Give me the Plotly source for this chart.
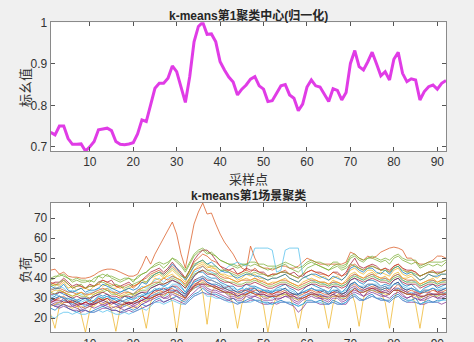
import plotly.graph_objects as go

# ---------------- data ----------------
sample_idx = list(range(1, 93))

center_norm = [0.735, 0.729, 0.750, 0.750, 0.720, 0.706, 0.706, 0.707, 0.690, 0.700,
               0.713, 0.741, 0.743, 0.745, 0.739, 0.713, 0.706, 0.705, 0.707, 0.710,
               0.731, 0.765, 0.761, 0.800, 0.841, 0.853, 0.853, 0.865, 0.895, 0.881,
               0.845, 0.807, 0.869, 0.953, 0.990, 1.000, 0.971, 0.972, 0.953, 0.905,
               0.885, 0.868, 0.856, 0.825, 0.839, 0.849, 0.863, 0.869, 0.847, 0.839,
               0.809, 0.811, 0.829, 0.847, 0.850, 0.825, 0.817, 0.787, 0.803, 0.844,
               0.861, 0.847, 0.844, 0.828, 0.809, 0.840, 0.836, 0.813, 0.831, 0.901,
               0.932, 0.893, 0.885, 0.905, 0.928, 0.900, 0.871, 0.881, 0.861, 0.911,
               0.928, 0.877, 0.857, 0.864, 0.861, 0.813, 0.833, 0.845, 0.849, 0.839,
               0.853, 0.860]

load_01 = [30,31,33,32,31,30,29,30,30,29, 31,32,31,32,30,30,29,31,30,31, 32,33,32,35,36,37,36,37,39,38,
           36,33,37,41,43,43,41,40,40,38, 37,36,36,34,35,37,36,36,35,34, 34,33,35,36,37,35,34,32,34,36,
           37,36,35,34,33,36,35,33,35,39, 40,38,37,39,39,38,36,37,36,39, 40,37,36,37,35,33,35,36,37,35,36,37]
load_02 = [44,44.5,42,43,41,40.5,40.5,40,40,40.5, 41.5,43,44,44.5,44.5,44,43,42,41,41, 42,46,51,47,52,56,60,64,68,62,
           52,45,57,67,73,77.5,72,72.5,67,62, 58,55,52,48,45,44,56,50,46,45, 45,44,45,46,46,45,45,46,48,50,
           49,48,47,47,47,47,47,47,48,53, 52,50,49,51,50,51,53,54,55,55.5, 55,54,50,50,48,47,47,48,49,51,51,50]
load_03 = [22,15,26,28,28,28,27,22,13,24, 28,29,30,29,24,13.5,25,28,28,28, 29,25,15,28,32,33,33,34,28,13,
           28,30,33,36,38,33,17,33,36,34, 33,33,27,15,27,32,33,33,32,26, 13,25,31,32,32,31,25,15,26,31,
           33,32,32,26,15,27,32,31,31,34, 28,16,30,34,35,34,33,28,15,29, 35,33,32,32,27,15,28,32,32,32,32,33]
load_04 = [28,27,27,29,28,26,27,25,26,27, 27,28,26,27,28,27,25,26,27,26, 27,29,28,30,31,32,30,31,33,32,
           31,30,33,35,36,37,35,34,34,33, 33,31,31,30,30,32,31,31,32,30, 30,31,29,30,31,31,29,28,30,31,
           32,31,30,30,29,31,31,29,30,33, 34,33,31,33,34,33,32,31,32,34, 34,32,30,31,32,29,30,31,32,30,31,32]
load_05 = [39,40,42,41,40,38,39,38,38,39, 38,41,40,42,40,39,38,39,40,38, 41,42,43,45,46,47,45,47,50,48,
           46,43,47,51,53,54,52,53,51,49, 48,47,46,45,46,47,46,47,46,45, 44,45,45,46,47,45,44,43,45,47,
           48,47,46,45,44,46,47,45,46,50, 51,49,48,50,50,49,48,49,47,50, 51,49,48,47,48,45,46,47,46,47,46,48]
load_06 = [35,34,36,35,33,34,33,32,32,33, 33,35,34,35,34,32,33,34,33,32, 34,36,35,37,39,40,38,40,41,40,
           38,36,40,43,44,46,44,43,42,43, 44,46,47,48,47,46,49,55,55,55, 55,54,43,44,54,55,55,55,42,40,
           39,38,38,37,36,38,37,36,37,40, 42,40,39,41,42,40,39,40,38,41, 42,39,38,39,38,36,37,38,39,37,38,39]
load_07 = [37,38,38,40,38,36,37,36,35,37, 36,38,39,38,39,36,36,37,38,36, 37,39,41,43,44,45,43,45,48,45,
           43,40,44,49,52,54,54,52,49,46, 45,44,45,42,43,45,44,44,43,43, 41,42,42,43,43,42,43,41,41,43,
           44,43,43,42,41,43,43,41,43,47, 50,46,45,46,47,46,44,45,44,46, 47,45,44,44,43,41,42,43,43,43,43,44]
load_08 = [25,24,26,27,25,24,23,24,24,23, 24,25,26,25,24,24,23,24,25,24, 25,27,26,27,29,30,28,29,30,31,
           29,28,30,32,33,35,33,32,32,31, 30,29,30,28,28,29,30,29,29,28, 28,27,28,29,28,28,27,26,27,29,
           29,28,29,28,27,29,28,27,28,31, 32,30,29,31,32,30,30,29,29,31, 32,30,29,29,30,27,28,29,28,29,29,30]
load_09 = [34,35,35,34,33,33,32,33,32,32, 33,34,35,34,33,33,32,33,33,32, 34,35,36,37,38,38,40,39,41,40,
           39,37,40,44,45,46,44,44,43,41, 40,40,39,38,39,39,39,40,39,38, 37,37,38,39,39,38,37,36,37,38,
           39,39,38,38,37,38,38,37,38,41, 42,41,40,41,42,41,40,40,39,41, 42,40,39,39,39,37,38,39,39,38,39,39]
load_10 = [36,37,36,38,35,36,34,35,35,34, 36,37,36,37,35,35,36,34,35,36, 37,38,38,40,41,42,40,42,44,42,
           40,38,43,46,47,48,46,45,45,42, 42,41,41,39,40,42,41,42,40,40, 39,40,40,41,42,40,39,38,40,41,
           42,41,40,41,39,40,41,39,41,44, 45,43,42,44,44,42,43,42,41,44, 45,42,41,42,41,39,40,42,41,40,42,42]
load_11 = [27,26,25,26,25,24,24,23,24,23, 23,24,25,25,24,24,23,23,24,23, 24,25,26,27,28,29,28,29,30,29,
           28,27,29,31,32,33,32,32,31,30, 29,29,28,27,28,28,29,29,28,27, 27,28,27,28,28,27,26,23,25,28,
           28,28,27,27,27,28,27,27,27,30, 31,29,29,30,31,30,29,29,28,30, 31,29,28,28,28,27,27,28,28,28,27,28]
load_12 = [33,32,34,33,32,31,32,31,31,30, 32,33,33,34,32,32,31,31,32,32, 33,34,34,36,37,38,37,38,40,39,
           37,35,39,42,43,44,43,42,42,40, 39,38,38,37,37,38,38,39,38,37, 36,36,37,38,38,37,36,35,36,37,
           38,38,37,37,36,37,37,36,37,40, 41,40,39,40,41,40,39,39,38,40, 41,39,38,38,38,36,37,38,38,37,38,38]
load_13 = [21,20,22,23,23,22,23,22,22,23, 23,24,23,24,23,22,22,23,22,23, 24,25,24,26,28,28,27,28,29,28,
           27,27,29,31,32,33,31,31,30,30, 29,28,28,27,28,28,28,29,28,28, 27,27,28,28,28,27,27,26,27,28,
           28,28,28,27,27,28,27,27,28,30, 31,29,29,30,31,30,29,29,28,30, 31,29,28,29,28,27,28,28,28,28,29,29]
load_14 = [32,32,33,33,31,30,31,30,30,30, 31,32,33,32,31,31,30,31,31,30, 32,33,33,35,36,37,37,38,39,38,
           37,35,38,41,43,44,42,42,41,39, 38,38,37,36,36,37,37,38,37,36, 35,35,36,37,37,36,35,34,35,36,
           37,37,36,36,35,36,36,35,36,39, 40,39,38,39,40,39,38,38,37,39, 40,38,37,37,37,35,36,37,37,36,37,37]
load_15 = [36,35,35,37,34,33,34,35,33,34, 34,35,37,36,35,34,33,34,35,34, 35,38,37,40,42,43,42,44,47,45,
           42,39,42,46,48,49,47,48,46,44, 43,43,41,40,41,42,42,41,41,40, 39,40,40,41,42,40,39,38,40,41,
           42,42,41,40,39,41,40,39,41,45, 46,44,43,45,45,43,42,44,42,45, 46,43,42,43,41,39,40,42,41,41,42,42]
load_16 = [30,29,30,31,29,28,29,27,28,29, 28,30,29,30,29,28,29,28,27,28, 29,31,30,32,33,34,33,34,35,33,
           32,31,34,37,38,39,37,36,36,35, 35,34,33,32,33,34,33,34,34,33, 32,32,33,33,34,32,32,31,32,33,
           34,33,33,32,32,33,33,32,33,36, 37,35,34,35,36,35,34,35,33,35, 37,34,33,34,33,32,33,33,34,33,33,34]
load_17 = [33,34,34,33,32,31,32,33,31,32, 32,33,34,35,33,32,31,32,33,31, 33,35,36,37,40,39,40,41,42,40,
           39,36,40,44,46,47,45,46,44,42, 41,40,39,38,39,40,39,40,38,39, 37,38,38,39,40,38,37,36,38,39,
           40,39,38,38,37,39,38,37,39,42, 43,41,40,42,43,41,40,41,39,42, 43,40,40,41,39,37,38,39,40,38,39,40]
load_18 = [29,28,28,30,28,27,26,27,27,26, 27,29,28,27,28,27,26,27,28,27, 28,29,30,31,32,32,33,34,34,34,
           32,31,34,36,38,40,38,37,36,35, 34,33,33,31,32,33,34,33,32,32, 31,31,32,32,33,32,31,29,31,32,
           33,32,32,31,30,32,33,31,32,35, 36,34,34,35,35,35,33,34,33,35, 35,34,33,32,33,31,31,33,32,32,33,32]
load_19 = [40,41,41,42,40,39,40,39,39,38, 40,41,42,41,41,40,39,40,40,39, 40,42,43,45,47,48,47,48,50,49,
           47,44,48,52,54,55,53,52,51,49, 48,47,47,46,47,47,48,48,47,47, 46,46,46,47,48,47,46,45,46,48,
           49,48,48,47,46,48,48,46,47,51, 52,50,49,50,51,50,49,50,49,51, 52,50,49,49,49,46,47,48,48,48,48,49]
load_20 = [27,26,28,29,28,27,28,27,26,27, 28,28,29,28,28,27,27,26,27,28, 28,30,29,31,32,33,31,32,34,33,
           32,31,33,35,36,38,36,36,35,34, 33,32,32,31,31,33,32,33,32,31, 31,30,31,32,32,31,30,30,31,32,
           32,31,32,31,30,32,31,30,31,34, 35,34,33,34,34,34,32,33,32,34, 35,33,32,33,32,30,31,32,32,31,32,33]
load_21 = [30,29,31,30,28,29,28,27,28,27, 28,30,29,30,28,28,29,28,27,28, 29,31,30,32,34,34,35,34,36,36,
           34,32,35,39,40,41,39,39,38,37, 35,36,34,33,34,34,35,35,33,33, 33,32,33,34,35,33,32,32,33,33,
           35,34,33,34,32,33,34,32,33,37, 38,36,35,37,37,36,35,36,34,37, 38,35,34,35,34,32,34,34,35,33,34,35]
load_22 = [29,30,31,30,30,29,28,29,30,28, 29,31,30,31,30,29,28,29,30,29, 31,31,32,33,34,35,34,35,36,35,
           33,32,35,38,39,40,38,37,37,36, 35,34,34,33,33,35,34,35,33,34, 33,33,34,34,35,33,32,32,33,34,
           35,34,34,33,32,34,34,32,33,37, 38,36,35,36,37,36,34,35,35,37, 38,35,34,35,34,33,33,34,35,34,34,35]
load_23 = [38,37,37,39,37,35,36,36,35,36, 36,37,39,38,37,36,35,36,37,35, 37,39,40,42,43,44,42,44,46,44,
           42,40,44,48,50,52,51,49,48,46, 44,44,43,42,43,44,43,45,43,42, 41,42,42,43,44,42,41,40,42,43,
           44,43,42,42,41,43,42,41,42,46, 47,45,44,46,46,45,44,45,43,46, 47,45,43,44,43,41,42,43,44,42,43,44]
load_24 = [26,27,28,27,26,25,26,26,25,26, 26,28,27,28,26,25,26,27,26,25, 26,28,29,30,31,32,31,33,33,32,
           31,30,33,35,37,38,36,36,35,34, 33,32,32,30,31,32,33,32,31,31, 30,31,31,31,32,31,30,29,30,31,
           32,31,31,30,30,31,31,30,30,33, 35,33,33,34,34,33,33,32,32,34, 34,33,32,32,31,30,31,32,31,31,32,32]
load_25 = [27,26,26,27,26,26,25,24,25,26, 25,26,27,26,25,26,25,24,25,26, 25,27,28,29,30,31,30,30,32,31,
           30,29,31,33,35,36,34,33,33,32, 31,30,30,29,29,31,30,31,30,29, 29,29,30,30,31,30,28,27,29,30,
           31,30,30,29,28,30,30,28,29,32, 33,32,31,32,33,32,31,31,30,32, 33,31,30,31,30,29,29,30,31,30,30,31]
load_26 = [37,36,38,39,37,35,36,37,35,36, 36,38,38,37,36,37,36,35,36,37, 38,39,38,41,42,43,41,43,45,43,
           41,40,44,47,48,49,47,46,46,44, 44,43,42,41,42,43,42,43,42,42, 41,41,42,43,43,42,41,40,42,45,
           46,47,46,45,44,45,46,44,45,47, 46,45,44,45,46,45,44,44,43,45, 46,44,43,43,42,41,42,43,43,42,43,44]
load_27 = [31,32,31,30,29,30,29,28,29,28, 29,31,30,31,29,30,29,28,29,30, 30,32,31,33,35,34,36,35,37,37,
           35,33,36,38,40,41,40,39,38,37, 36,35,35,34,35,34,36,35,35,34, 33,34,34,35,34,34,33,31,33,34,
           35,34,34,34,33,34,33,33,34,36, 38,36,36,37,37,37,35,36,35,37, 37,36,35,35,34,33,34,34,35,34,35,35]
load_28 = [28,29,29,28,28,28,27,27,28,27, 27,28,29,28,27,28,27,27,28,27, 28,29,30,30,31,32,32,33,33,34,
           32,30,33,36,37,37,37,36,35,34, 33,33,32,31,32,32,33,32,32,32, 31,31,31,32,33,31,31,30,30,31,
           32,32,31,31,31,32,31,31,31,33, 35,33,33,34,35,34,33,33,32,34, 34,33,32,32,32,31,31,32,32,32,32,32]

matlab_colors = ["#0072BD", "#D95319", "#EDB120", "#7E2F8E", "#77AC30", "#4DBEEE", "#A2142F"]

scenario_loads = [load_01, load_02, load_03, load_04, load_05, load_06, load_07,
                  load_08, load_09, load_10, load_11, load_12, load_13, load_14,
                  load_15, load_16, load_17, load_18, load_19, load_20, load_21,
                  load_22, load_23, load_24, load_25, load_26, load_27, load_28]

x_ticks = [10, 20, 30, 40, 50, 60, 70, 80, 90]
top_y_ticks = [0.7, 0.8, 0.9, 1.0]
top_y_ticktext = ["0.7", "0.8", "0.9", "1"]
bottom_y_ticks = [20, 30, 40, 50, 60, 70]

top_title = "k-means第1聚类中心(归一化)"
bottom_title = "k-means第1场景聚类"
top_ylabel = "标幺值"
bottom_ylabel = "负荷"
top_xlabel = "采样点"

# ---------------- figure ----------------
W, H = 474, 342
fig = go.Figure()

fig.add_trace(go.Scatter(x=sample_idx, y=center_norm, mode="lines",
                         line=dict(color="#E03CE6", width=3),
                         xaxis="x", yaxis="y", showlegend=False))

for i, s in enumerate(scenario_loads):
    fig.add_trace(go.Scatter(x=sample_idx, y=s, mode="lines", opacity=0.9,
                             line=dict(color=matlab_colors[i % 7], width=0.8),
                             xaxis="x2", yaxis="y2", showlegend=False))

tick_font = dict(family="Liberation Sans, Arial, sans-serif", size=12, color="#333333")
axis_common = dict(showline=True, linecolor="#8a8a8a", linewidth=1, mirror="ticks",
                   ticks="inside", ticklen=4, tickcolor="#555555", tickwidth=1,
                   showgrid=False, zeroline=False, tickfont=tick_font, automargin=False)

xd = [50.7 / W, 446 / W]
fig.update_layout(
    width=W, height=H,
    margin=dict(l=0, r=0, t=0, b=0, pad=0),
    paper_bgcolor="#f0f0f0",
    plot_bgcolor="#ffffff",
    showlegend=False,
    xaxis=dict(domain=xd, range=[1, 92], tickvals=x_ticks, anchor="y", **axis_common),
    yaxis=dict(domain=[(H - 151) / H, (H - 22.3) / H], range=[0.69, 1.0],
               tickvals=top_y_ticks, ticktext=top_y_ticktext, anchor="x", **axis_common),
    xaxis2=dict(domain=xd, range=[1, 92], tickvals=x_ticks, anchor="y2", **axis_common),
    yaxis2=dict(domain=[(H - 332.3) / H, (H - 203) / H], range=[13, 77.5],
                tickvals=bottom_y_ticks, anchor="x2", **axis_common),
)

title_font = dict(family="Liberation Sans, Noto Sans CJK SC, sans-serif", size=12, color="#262626")
label_font = dict(family="Noto Sans CJK SC, sans-serif", size=13, color="#333333")
cx = (xd[0] + xd[1]) / 2
fig.add_annotation(text="<b>" + top_title + "</b>", x=cx, y=1 - 15 / H, xref="paper", yref="paper",
                   showarrow=False, font=title_font, xanchor="center", yanchor="middle")
fig.add_annotation(text="<b>" + bottom_title + "</b>", x=cx, y=1 - 195 / H, xref="paper", yref="paper",
                   showarrow=False, font=title_font, xanchor="center", yanchor="middle")
fig.add_annotation(text=top_xlabel, x=cx, y=1 - 178 / H, xref="paper", yref="paper",
                   showarrow=False, font=label_font, xanchor="center", yanchor="middle")
fig.add_annotation(text=top_ylabel, x=24 / W, y=1 - 88 / H, xref="paper", yref="paper", textangle=-90,
                   showarrow=False, font=label_font, xanchor="center", yanchor="middle")
fig.add_annotation(text=bottom_ylabel, x=24 / W, y=1 - 270 / H, xref="paper", yref="paper", textangle=-90,
                   showarrow=False, font=label_font, xanchor="center", yanchor="middle")

fig.write_html("out.html")
